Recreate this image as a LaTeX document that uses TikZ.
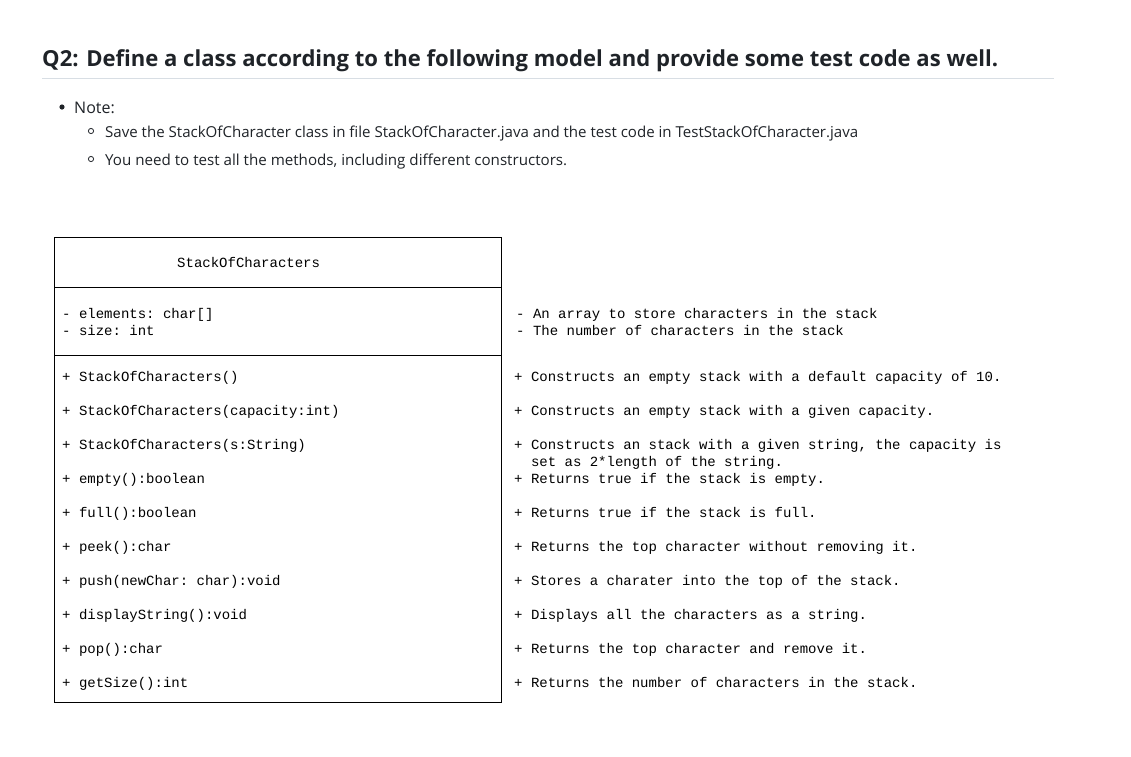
\documentclass[tikz,border=0pt]{standalone}
\usepackage{fontspec}
\setmainfont{Open Sans}
\setmonofont{Liberation Mono}
\definecolor{ink}{HTML}{1F2328}
\definecolor{rulegray}{HTML}{D8DEE4}
\begin{document}
\begin{tikzpicture}[x=1pt,y=-1pt,
  mono/.style={anchor=base west,inner sep=0pt,font=\fontsize{14}{16}\selectfont\ttfamily,text=black},
  prose/.style={anchor=base west,inner sep=0pt,text=ink},
  umlbox/.style={draw=black,line width=1pt}]
\useasboundingbox[fill=white] (0,0) rectangle (1131,756);
% heading
\node[prose] (head) at (42,66) {\resizebox{956pt}{!}{\fontsize{24}{28}\selectfont\bfseries Q2: Define a class according to the following model and provide some test code as well.}};
\draw[rulegray,line width=1pt] (42,78) -- (1054,78);
% bullets
\fill[ink] (62,107) circle (2.6);
\node[prose] (note) at (74,113) {\fontsize{16}{19}\selectfont Note:};
\draw[ink,line width=0.8pt] (91,131) circle (2.6);
\node[prose] (save) at (105,137) {\resizebox{753pt}{!}{\fontsize{16}{19}\selectfont Save the StackOfCharacter class in file StackOfCharacter.java and the test code in TestStackOfCharacter.java}};
\draw[ink,line width=0.8pt] (91,159) circle (2.6);
\node[prose] (you) at (105,165) {\resizebox{462pt}{!}{\fontsize{16}{19}\selectfont You need to test all the methods, including different constructors.}};
% class box
\draw[umlbox] (54,237) rectangle (501,702);
\draw[umlbox] (54,287) -- (501,287);
\draw[umlbox] (54,355) -- (501,355);
\node[mono] (title) at (177,267) {StackOfCharacters};
\node[mono] (a1) at (62,318) {- elements: char[]};
\node[mono] (a2) at (62,335) {- size: int};
\node[mono] (d1) at (516,318) {- An array to store characters in the stack};
\node[mono] (d2) at (516,335) {- The number of characters in the stack};
% methods
\node[mono] (m1) at (62,381) {+ StackOfCharacters()};
\node[mono] (m2) at (62,415) {+ StackOfCharacters(capacity:int)};
\node[mono] (m3) at (62,449) {+ StackOfCharacters(s:String)};
\node[mono] (m4) at (62,483) {+ empty():boolean};
\node[mono] (m5) at (62,517) {+ full():boolean};
\node[mono] (m6) at (62,551) {+ peek():char};
\node[mono] (m7) at (62,585) {+ push(newChar: char):void};
\node[mono] (m8) at (62,619) {+ displayString():void};
\node[mono] (m9) at (62,653) {+ pop():char};
\node[mono] (m10) at (62,687) {+ getSize():int};
% descriptions
\node[mono] (r1) at (514,381) {+ Constructs an empty stack with a default capacity of 10.};
\node[mono] (r2) at (514,415) {+ Constructs an empty stack with a given capacity.};
\node[mono] (r3) at (514,449) {+ Constructs an stack with a given string, the capacity is};
\node[mono] (r3b) at (514,466) {\ \ set as 2*length of the string.};
\node[mono] (r4) at (514,483) {+ Returns true if the stack is empty.};
\node[mono] (r5) at (514,517) {+ Returns true if the stack is full.};
\node[mono] (r6) at (514,551) {+ Returns the top character without removing it.};
\node[mono] (r7) at (514,585) {+ Stores a charater into the top of the stack.};
\node[mono] (r8) at (514,619) {+ Displays all the characters as a string.};
\node[mono] (r9) at (514,653) {+ Returns the top character and remove it.};
\node[mono] (r10) at (514,687) {+ Returns the number of characters in the stack.};
\end{tikzpicture}
\end{document}
